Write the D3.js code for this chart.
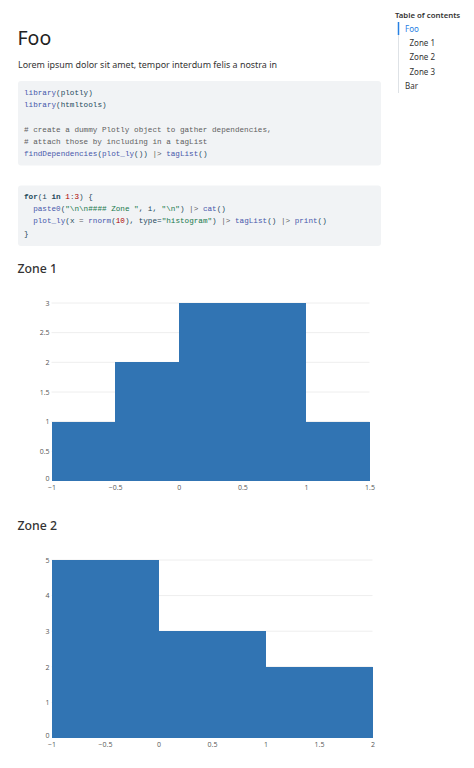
<!DOCTYPE html>
<html><head><meta charset="utf-8">
<script src="https://cdn.jsdelivr.net/npm/d3@7"></script>
<style>
html,body{margin:0;padding:0;background:#fff;}
svg{display:block;}
</style></head>
<body>
<svg id="page" width="474" height="768"></svg>
<script>
// ---- data ----
const zone1Edges = [-1, -0.5, 0, 0.5, 1, 1.5];
const zone1Counts = [1, 2, 3, 3, 1];
const zone1XTicks = [-1, -0.5, 0, 0.5, 1, 1.5];
const zone1YTicks = [0, 0.5, 1, 1.5, 2, 2.5, 3];

const zone2Edges = [-1, 0, 1, 2];
const zone2Counts = [5, 3, 2];
const zone2XTicks = [-1, -0.5, 0, 0.5, 1, 1.5, 2];
const zone2YTicks = [0, 1, 2, 3, 4, 5];

const tocItems = ["Foo", "Zone 1", "Zone 2", "Zone 3", "Bar"];

const svg = d3.select("#page");
const sans = "'Noto Sans', 'Open Sans', sans-serif";
const mono = "'Liberation Mono', 'DejaVu Sans Mono', monospace";

// ---- headings & text ----
svg.append("text").attr("x", 17.5).attr("y", 44.5).attr("font-family", sans)
  .attr("font-size", 19.5).attr("fill", "#222").text("Foo");
svg.append("text").attr("x", 18).attr("y", 67.5).attr("font-family", sans)
  .attr("font-size", 9.3).attr("fill", "#333").attr("textLength", 259).attr("lengthAdjust", "spacingAndGlyphs")
  .text("Lorem ipsum dolor sit amet, tempor interdum felis a nostra in");

// ---- code blocks ----
const C = {txt: "#1f4a5c", fn: "#4758AB", com: "#5E5E5E", str: "#20794D", num: "#AD0000", op: "#5E5E5E"};
const code1 = [
  [["library", C.fn], ["(plotly)", C.txt]],
  [["library", C.fn], ["(htmltools)", C.txt]],
  [],
  [["# create a dummy Plotly object to gather dependencies,", C.com]],
  [["# attach those by including in a tagList", C.com]],
  [["findDependencies", C.fn], ["(", C.txt], ["plot_ly", C.fn], ["()) ", C.txt], ["|>", C.op], [" ", C.txt], ["tagList", C.fn], ["()", C.txt]]
];
const code2 = [
  [["for", C.txt, true], ["(i ", C.txt], ["in", C.txt, true], [" ", C.txt], ["1", C.num], [":", C.op], ["3", C.num], [") {", C.txt]],
  [["  ", C.txt], ["paste0", C.fn], ["(", C.txt], ["\"\\n\\n#### Zone \"", C.str], [", i, ", C.txt], ["\"\\n\"", C.str], [") ", C.txt], ["|>", C.op], [" ", C.txt], ["cat", C.fn], ["()", C.txt]],
  [["  ", C.txt], ["plot_ly", C.fn], ["(", C.txt], ["x ", C.txt], ["=", C.op], [" ", C.txt], ["rnorm", C.fn], ["(", C.txt], ["10", C.num], ["), ", C.txt], ["type=", C.txt], ["\"histogram\"", C.str], [") ", C.txt], ["|>", C.op], [" ", C.txt], ["tagList", C.fn], ["() ", C.txt], ["|>", C.op], [" ", C.txt], ["print", C.fn], ["()", C.txt]],
  [["}", C.txt]]
];
function codeBlock(lines, y0, h, firstBase) {
  svg.append("rect").attr("x", 18).attr("y", y0).attr("width", 363).attr("height", h)
    .attr("rx", 3).attr("fill", "#f1f3f5");
  lines.forEach((segs, i) => {
    const t = svg.append("text").attr("x", 24).attr("y", firstBase + i * 12.2)
      .attr("font-family", mono).attr("font-size", 7.65).attr("xml:space", "preserve")
      .style("white-space", "pre");
    segs.forEach(s => t.append("tspan").attr("fill", s[1]).attr("font-weight", s[2] ? "bold" : null).text(s[0]));
  });
}
codeBlock(code1, 81, 84.5, 95);
codeBlock(code2, 185.5, 60.5, 199);

// ---- TOC ----
svg.append("text").attr("x", 395).attr("y", 18).attr("font-family", sans).attr("font-size", 7.8)
  .attr("font-weight", 600).attr("fill", "#333").text("Table of contents");
svg.append("line").attr("x1", 398.5).attr("x2", 398.5).attr("y1", 22).attr("y2", 93)
  .attr("stroke", "#dee2e6").attr("stroke-width", 1);
svg.append("line").attr("x1", 398.5).attr("x2", 398.5).attr("y1", 22).attr("y2", 35)
  .attr("stroke", "#2780e3").attr("stroke-width", 1.5);
const tocY = d3.scalePoint().domain(tocItems).range([31.5, 89]);
svg.selectAll("text.toc").data(tocItems).join("text").attr("class", "toc")
  .attr("x", d => d.startsWith("Zone") ? 409.5 : 405)
  .attr("y", d => tocY(d))
  .attr("font-family", sans).attr("font-size", 8)
  .attr("fill", d => d === "Foo" ? "#2780e3" : "#333")
  .text(d => d);

// ---- histograms ----
function histogram(title, titleBase, edges, counts, xTicks, yTicks, xr, yr, xdom, ydom) {
  svg.append("text").attr("x", 17.5).attr("y", titleBase).attr("font-family", sans)
    .attr("font-size", 12.3).attr("font-weight", 500).attr("fill", "#333").text(title);
  const x = d3.scaleLinear().domain(xdom).range(xr);
  const y = d3.scaleLinear().domain(ydom).range(yr);
  const g = svg.append("g");
  // gridlines
  g.selectAll("line.grid").data(yTicks.filter(v => v > 0)).join("line").attr("class", "grid")
    .attr("x1", xr[0]).attr("x2", xr[1]).attr("y1", d => y(d)).attr("y2", d => y(d))
    .attr("stroke", "#eeeeee").attr("stroke-width", 1);
  // bars
  const bins = counts.map((c, i) => ({x0: edges[i], x1: edges[i + 1], c}));
  g.selectAll("rect.bar").data(bins).join("rect").attr("class", "bar")
    .attr("x", d => x(d.x0)).attr("width", d => x(d.x1) - x(d.x0))
    .attr("y", d => y(d.c)).attr("height", d => y(0) - y(d.c))
    .attr("fill", "#3174b3").attr("shape-rendering", "crispEdges");
  // axes
  const fmt = d3.format("");
  const ya = d3.axisLeft(y).tickValues(yTicks).tickSize(0).tickPadding(2).tickFormat(fmt);
  const yg = svg.append("g").attr("transform", `translate(${xr[0]},0)`).call(ya);
  const xa = d3.axisBottom(x).tickValues(xTicks).tickSize(0).tickPadding(4.5).tickFormat(fmt);
  const xg = svg.append("g").attr("transform", `translate(0,${yr[0]})`).call(xa);
  [yg, xg].forEach(a => {
    a.select(".domain").remove();
    a.selectAll("text").attr("font-family", "'Open Sans', sans-serif").attr("font-size", 7).attr("fill", "#555");
  });
  // lift the zero label slightly so it does not collide with the first x label
  yg.selectAll(".tick text").filter(d => d === 0).attr("dy", "-0.05em");
}
histogram("Zone 1", 273, zone1Edges, zone1Counts, zone1XTicks, zone1YTicks, [51.5, 369.5], [481, 303], [-1, 1.5], [0, 3]);
histogram("Zone 2", 529.5, zone2Edges, zone2Counts, zone2XTicks, zone2YTicks, [51.5, 372.5], [738, 560], [-1, 2], [0, 5]);
</script>
</body></html>
